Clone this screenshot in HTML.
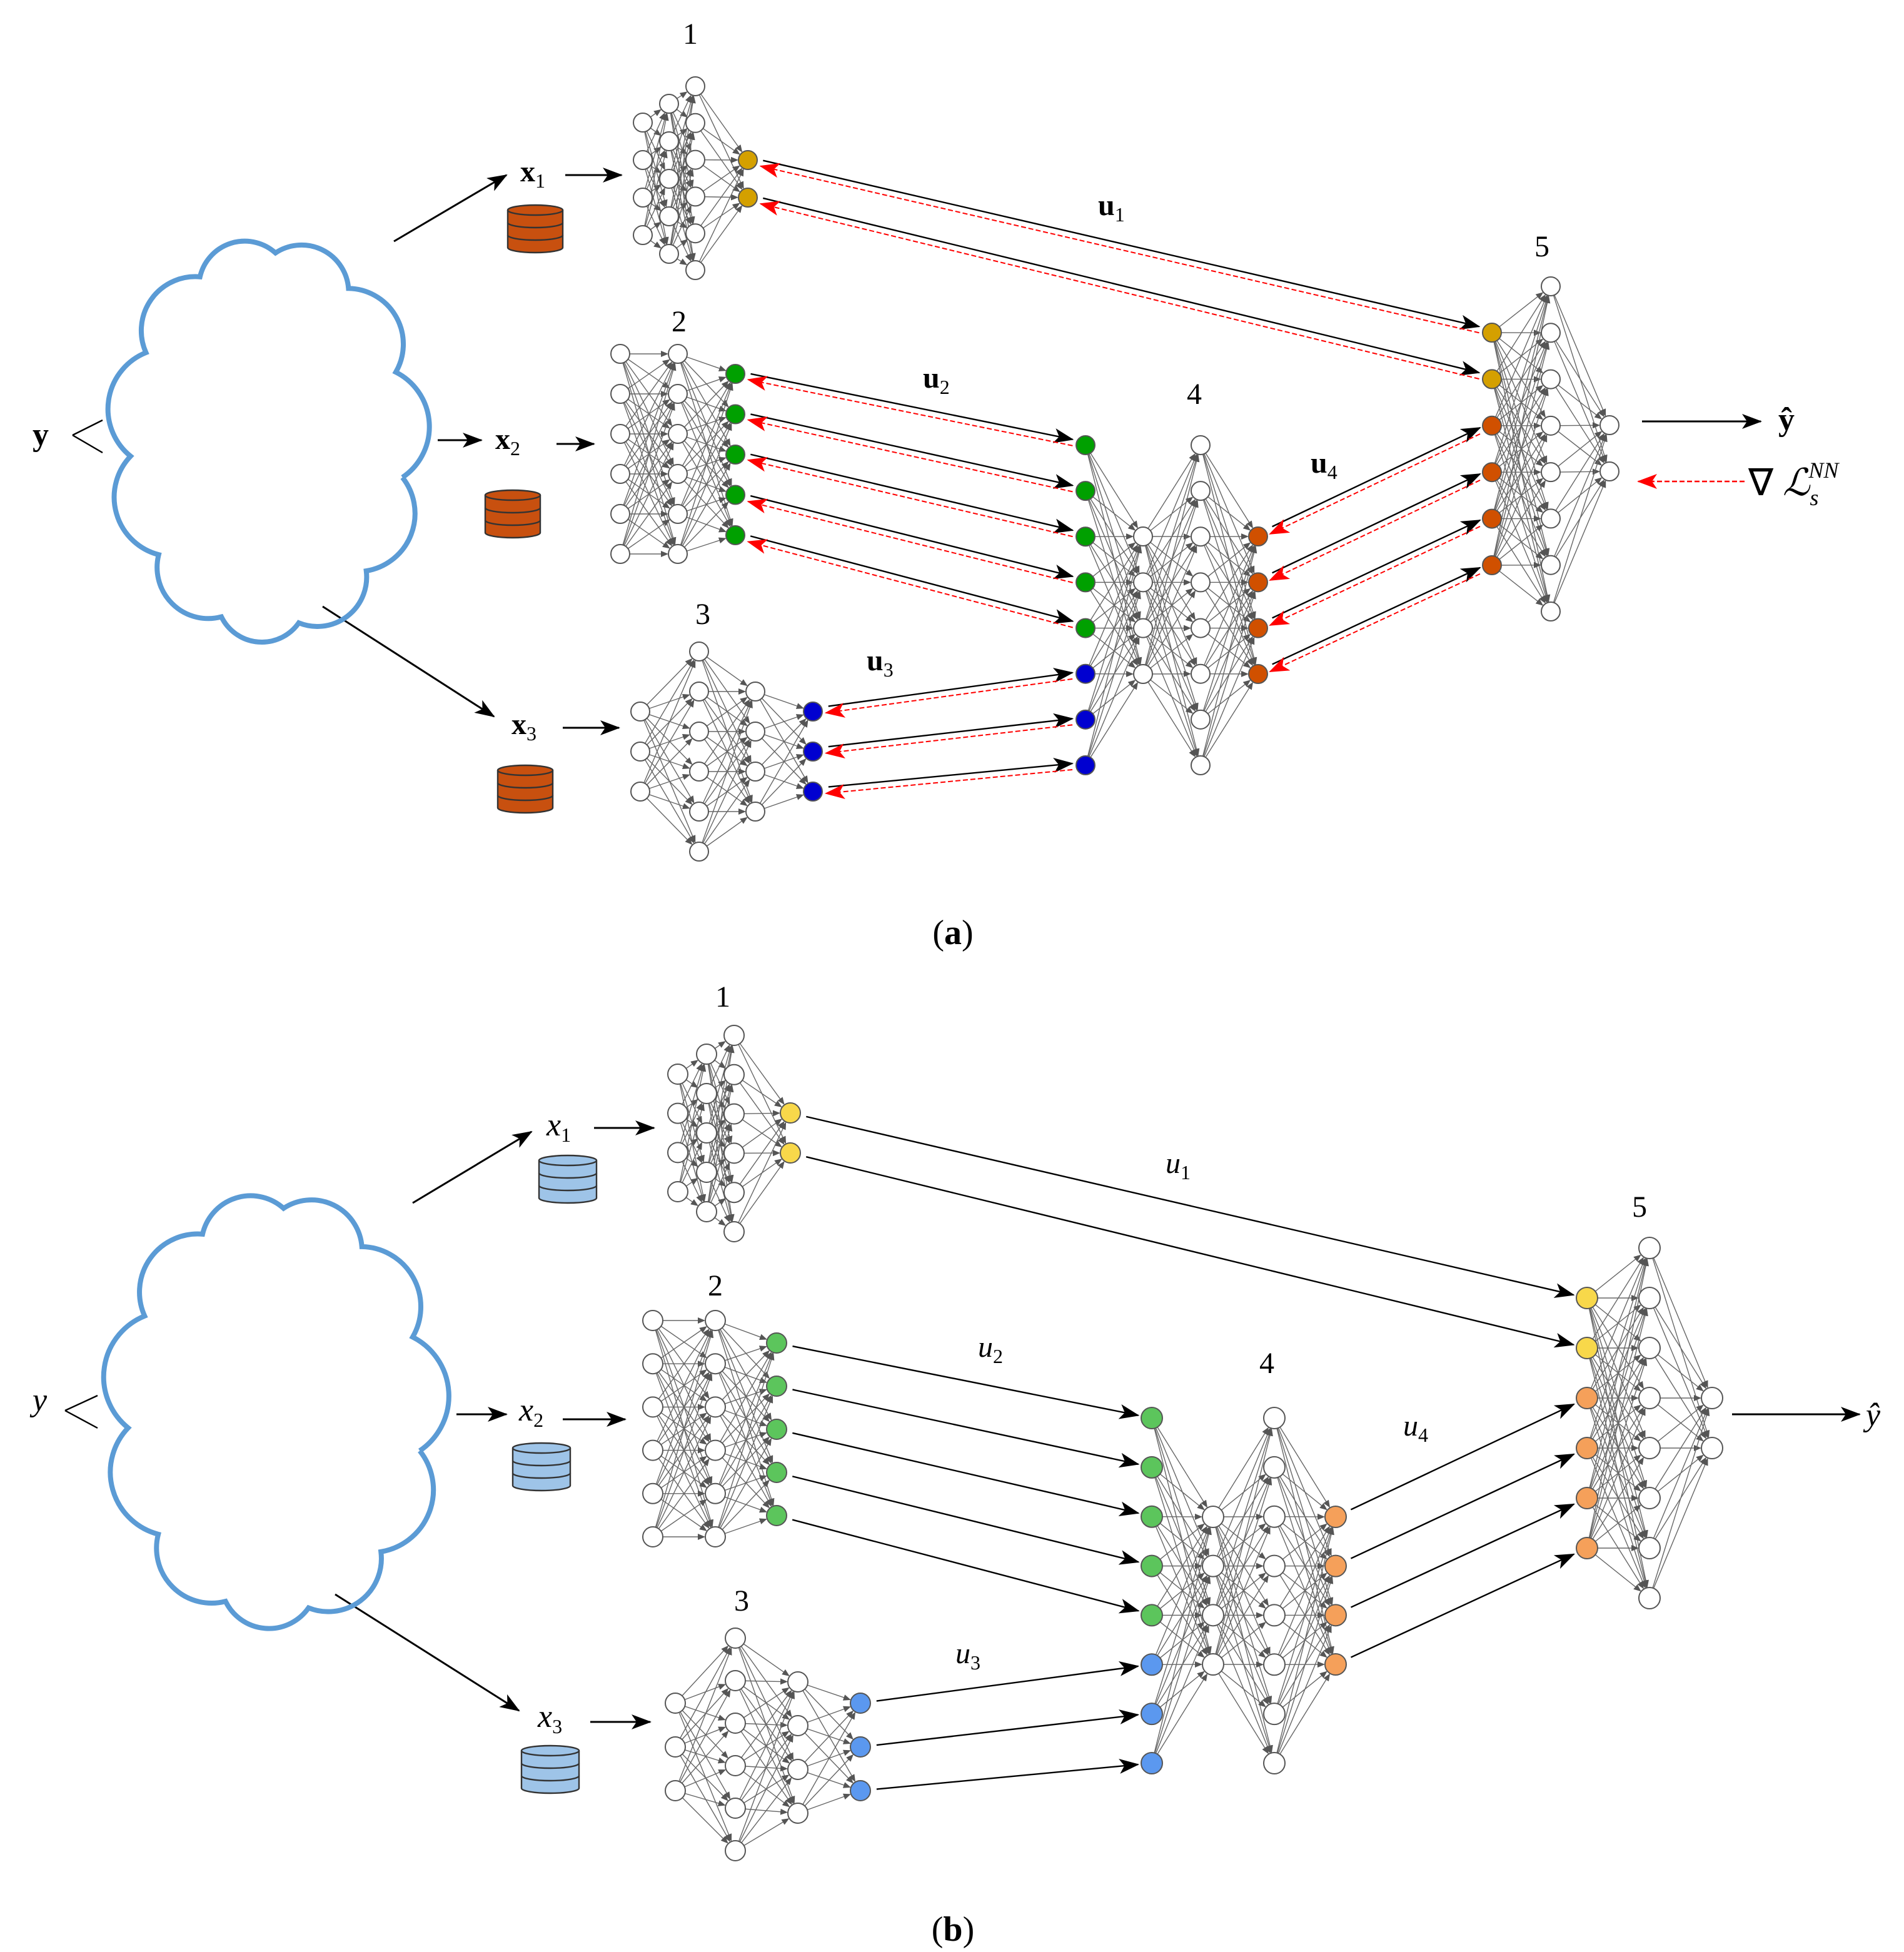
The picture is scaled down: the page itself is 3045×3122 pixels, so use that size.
<!DOCTYPE html>
<html><head><meta charset="utf-8"><style>
html,body{margin:0;padding:0;background:#fff;}
svg{display:block;}
text{font-family:"Liberation Serif",serif;fill:#000;}
</style></head><body>
<svg id="s" width="3045" height="3122" viewBox="0 0 1522.5 1561" xmlns="http://www.w3.org/2000/svg">
<defs>
<marker id="ab" markerWidth="10" markerHeight="8" refX="9" refY="4" orient="auto" markerUnits="userSpaceOnUse"><path d="M0,0 L10,4 L0,8 L3,4 Z" fill="#000"/></marker>
<marker id="ar" markerWidth="10" markerHeight="8" refX="9" refY="4" orient="auto" markerUnits="userSpaceOnUse"><path d="M0,0 L10,4 L0,8 L3,4 Z" fill="#f00"/></marker>
<marker id="abig" markerWidth="16" markerHeight="12" refX="15" refY="6" orient="auto" markerUnits="userSpaceOnUse"><path d="M0,0 L16,6 L0,12 L4,6 Z" fill="#000"/></marker>
<marker id="arbig" markerWidth="16" markerHeight="12" refX="15" refY="6" orient="auto" markerUnits="userSpaceOnUse"><path d="M0,0 L16,6 L0,12 L4,6 Z" fill="#f00"/></marker>
<marker id="ag" markerWidth="6" markerHeight="5" refX="5" refY="2.5" orient="auto" markerUnits="userSpaceOnUse"><path d="M0,0 L6,2.5 L0,5 Z" fill="#555"/></marker>
</defs>
<g id="g"></g>
<text x="552" y="35" font-size="24" text-anchor="middle">1</text>
<text x="543" y="265" font-size="24" text-anchor="middle">2</text>
<text x="562" y="499" font-size="24" text-anchor="middle">3</text>
<text x="955" y="323" font-size="24" text-anchor="middle">4</text>
<text x="1233" y="205" font-size="24" text-anchor="middle">5</text>
<text x="878" y="172" font-size="24" font-weight="bold">u<tspan font-size="16" dy="5" font-weight="normal">1</tspan></text>
<text x="738" y="310" font-size="24" font-weight="bold">u<tspan font-size="16" dy="5" font-weight="normal">2</tspan></text>
<text x="693" y="536" font-size="24" font-weight="bold">u<tspan font-size="16" dy="5" font-weight="normal">3</tspan></text>
<text x="1048" y="378" font-size="24" font-weight="bold">u<tspan font-size="16" dy="5" font-weight="normal">4</tspan></text>
<text x="416" y="145" font-size="24" font-weight="bold">x<tspan font-size="16" dy="5" font-weight="normal">1</tspan></text>
<text x="396" y="359" font-size="24" font-weight="bold">x<tspan font-size="16" dy="5" font-weight="normal">2</tspan></text>
<text x="409" y="587" font-size="24" font-weight="bold">x<tspan font-size="16" dy="5" font-weight="normal">3</tspan></text>
<text x="26" y="356" font-size="26" font-weight="bold">y</text>
<text x="1422" y="344" font-size="26" font-weight="bold">ŷ</text>
<text x="1398" y="396" font-size="30">∇ <tspan font-style="italic">ℒ</tspan><tspan font-size="18" font-style="italic" dy="8">s</tspan><tspan font-size="18" font-style="italic" dx="-8" dy="-22">NN</tspan></text>
<text x="762" y="755" font-size="28" text-anchor="middle">(<tspan font-weight="bold">a</tspan>)</text>
<text x="578" y="805" font-size="24" text-anchor="middle">1</text>
<text x="572" y="1036" font-size="24" text-anchor="middle">2</text>
<text x="593" y="1288" font-size="24" text-anchor="middle">3</text>
<text x="1013" y="1098" font-size="24" text-anchor="middle">4</text>
<text x="1311" y="973" font-size="24" text-anchor="middle">5</text>
<text x="932" y="938" font-size="24" font-style="italic">u<tspan font-size="16" dy="5" font-style="normal">1</tspan></text>
<text x="782" y="1085" font-size="24" font-style="italic">u<tspan font-size="16" dy="5" font-style="normal">2</tspan></text>
<text x="764" y="1330" font-size="24" font-style="italic">u<tspan font-size="16" dy="5" font-style="normal">3</tspan></text>
<text x="1122" y="1148" font-size="24" font-style="italic">u<tspan font-size="16" dy="5" font-style="normal">4</tspan></text>
<text x="437" y="908" font-size="26" font-style="italic">x<tspan font-size="16" dy="5" font-style="normal">1</tspan></text>
<text x="415" y="1136" font-size="26" font-style="italic">x<tspan font-size="16" dy="5" font-style="normal">2</tspan></text>
<text x="430" y="1381" font-size="26" font-style="italic">x<tspan font-size="16" dy="5" font-style="normal">3</tspan></text>
<text x="26" y="1128" font-size="26" font-style="italic">y</text>
<text x="1492" y="1140" font-size="26" font-style="italic">ŷ</text>
<text x="762" y="1552" font-size="28" text-anchor="middle">(<tspan font-weight="bold">b</tspan>)</text>
</svg>
<script>
var NS="http://www.w3.org/2000/svg",G=document.getElementById("g");
function el(t,a){var e=document.createElementNS(NS,t);for(var k in a)e.setAttribute(k,a[k]);G.appendChild(e);return e;}
function line(x1,y1,x2,y2,st,w,m,dash){var a={x1:x1,y1:y1,x2:x2,y2:y2,stroke:st,"stroke-width":w};if(m)a["marker-end"]="url(#"+m+")";if(dash)a["stroke-dasharray"]=dash;return el("line",a);}
var nodes=[];
function net(cols,r){
 for(var i=0;i<cols.length-1;i++){var A=cols[i],B=cols[i+1];
  A.y.forEach(function(ya){B.y.forEach(function(yb){
   var dx=B.x-A.x,dy=yb-ya,L=Math.sqrt(dx*dx+dy*dy);
   line(A.x,ya,B.x-dx/L*(r+1),yb-dy/L*(r+1),"#666",0.7,"ag");});});}
 cols.forEach(function(c){c.y.forEach(function(y){nodes.push([c.x,y,r,c.f||"#fff"]);});});
}
function drawNodes(){nodes.forEach(function(n){el("circle",{cx:n[0],cy:n[1],r:n[2],fill:n[3],stroke:"#555","stroke-width":1});});}
function rng(a,b,n){var o=[];for(var i=0;i<n;i++)o.push(a+(b-a)*i/(n-1));return o;}
var Y="#d4a000",GR="#00a000",BL="#0000d0",OR="#d05000";
net([{x:514,y:rng(98,188,4)},{x:535,y:rng(83,203,5)},{x:556,y:rng(69,216,6)},{x:598,y:[128,158],f:Y}],7.5);
net([{x:496,y:rng(283,443,6)},{x:542,y:rng(283,443,6)},{x:588,y:rng(299,428,5),f:GR}],7.5);
net([{x:512,y:rng(569,633,3)},{x:559,y:rng(521,681,6)},{x:604,y:rng(553,649,4)},{x:650,y:rng(569,633,3),f:BL}],7.5);
net([{x:868,y:rng(356,612,8)},{x:914,y:rng(429,539,4)},{x:960,y:rng(356,612,8)},{x:1006,y:rng(429,539,4),f:OR}],7.5);
net([{x:1193,y:rng(266,452,6)},{x:1240,y:rng(229,489,8)},{x:1287,y:[340,377]}],7.5);
var Yb="#f8d84a",Gb="#5cc55c",Bb="#5b98ef",Ob="#f5a05a";
net([{x:542,y:rng(859,953,4)},{x:565,y:rng(843,969,5)},{x:587,y:rng(828,985,6)},{x:632,y:[890,922],f:Yb}],8);
net([{x:522,y:rng(1056,1229,6)},{x:572,y:rng(1056,1229,6)},{x:621,y:rng(1074,1212,5),f:Gb}],8);
net([{x:540,y:rng(1362,1432,3)},{x:588,y:rng(1310,1480,6)},{x:638,y:rng(1345,1450,4)},{x:688,y:rng(1362,1432,3),f:Bb}],8);
net([{x:921,y:rng(1134,1410,8)},{x:970,y:rng(1213,1331,4)},{x:1019,y:rng(1134,1410,8)},{x:1068,y:rng(1213,1331,4),f:Ob}],8.5);
net([{x:1269,y:rng(1038,1238,6)},{x:1319,y:rng(998,1278,8)},{x:1369,y:[1118,1158]}],8.5);
nodes.forEach(function(n){
  if(n[0]==868){n[3]=n[1]<520?GR:BL;}
  if(n[0]==1193){n[3]=n[1]<320?Y:OR;}
  if(n[0]==921){n[3]=n[1]<1300?Gb:Bb;}
  if(n[0]==1269){n[3]=n[1]<1100?Yb:Ob;}
});
function conn(a,b,r,red){
 var dx=b[0]-a[0],dy=b[1]-a[1],L=Math.sqrt(dx*dx+dy*dy),ux=dx/L,uy=dy/L;
 if(red){
  line(a[0]+ux*(r+5),a[1]+uy*(r+5)-2.5,b[0]-ux*(r+3),b[1]-uy*(r+3)-2.5,"#000",1.2,"abig");
  line(b[0]-ux*(r+3),b[1]-uy*(r+3)+2.5,a[0]+ux*(r+3),a[1]+uy*(r+3)+2.5,"#f00",1,"arbig","4,2");
 } else line(a[0]+ux*(r+5),a[1]+uy*(r+5),b[0]-ux*(r+3),b[1]-uy*(r+3),"#000",1.2,"abig");
}
conn([598,128],[1193,266],7.5,1);conn([598,158],[1193,303],7.5,1);
[[299,356],[331,393],[363,429],[396,466],[428,502]].forEach(function(p){conn([588,p[0]],[868,p[1]],7.5,1);});
[[569,539],[601,576],[633,612]].forEach(function(p){conn([650,p[0]],[868,p[1]],7.5,1);});
[[429,340],[466,377],[502,414],[539,452]].forEach(function(p){conn([1006,p[0]],[1193,p[1]],7.5,1);});
conn([632,890],[1269,1038],8,0);conn([632,922],[1269,1078],8,0);
var gb=rng(1074,1212,5),g4=rng(1134,1291,5);gb.forEach(function(y,i){conn([621,y],[921,g4[i]],8,0);});
[[1362,1331],[1397,1370],[1432,1410]].forEach(function(p){conn([688,p[0]],[921,p[1]],8,0);});
[[1213,1118],[1252,1158],[1291,1198],[1331,1238]].forEach(function(p){conn([1068,p[0]],[1269,p[1]],8.5,0);});
drawNodes();
function ar(x1,y1,x2,y2){line(x1,y1,x2,y2,"#000",1.5,"abig");}
ar(315,193,405,140);ar(350,352,385,352);ar(258,485,395,573);
ar(452,140,497,140);ar(445,355,475,355);ar(450,582,495,582);
ar(1313,337,1408,337);
line(1395,385,1310,385,"#f00",1.2,"arbig","4,2");
ar(330,962,425,905);ar(365,1131,405,1131);ar(268,1275,415,1368);
ar(475,902,523,902);ar(450,1135,500,1135);ar(472,1377,520,1377);
ar(1385,1131,1487,1131);
line(58,348,82,336,"#000",1.2);line(58,348,82,362,"#000",1.2);
line(52,1128,78,1116,"#000",1.2);line(52,1128,78,1142,"#000",1.2);
function cloud(cx,cy,rx,ry,n){
 var pts=[];for(var i=0;i<n;i++){var t=i/n*2*Math.PI+0.2;pts.push([cx+rx*Math.cos(t),cy+ry*Math.sin(t)]);}
 var d="M"+pts[0][0]+","+pts[0][1];
 for(var i=1;i<=n;i++){var p=pts[i%n],q=pts[i-1];var L=Math.hypot(p[0]-q[0],p[1]-q[1]);d+=" A"+(L*0.58)+","+(L*0.58)+" 0 0 1 "+p[0]+","+p[1];}
 el("path",{d:d,fill:"none",stroke:"#5b9bd5","stroke-width":4});
}
cloud(214,352,110,150,11);cloud(220,1128,118,162,11);
function db(x,y,c,w,h){
 for(var i=2;i>=0;i--){var yy=y+i*h/3;
  el("path",{d:"M"+(x-w/2)+","+yy+" v"+(h/3)+" a"+(w/2)+",4 0 0 0 "+w+",0 v"+(-h/3),fill:c,stroke:"#333","stroke-width":1.2});}
 el("ellipse",{cx:x,cy:y,rx:w/2,ry:4,fill:c,stroke:"#333","stroke-width":1.2});
}
db(428,168,"#c8500f",44,30);db(410,396,"#c8500f",44,30);db(420,616,"#c8500f",44,30);
db(454,928,"#9ec4e8",46,30);db(433,1158,"#9ec4e8",46,30);db(440,1400,"#9ec4e8",46,30);
</script>
</body></html>
